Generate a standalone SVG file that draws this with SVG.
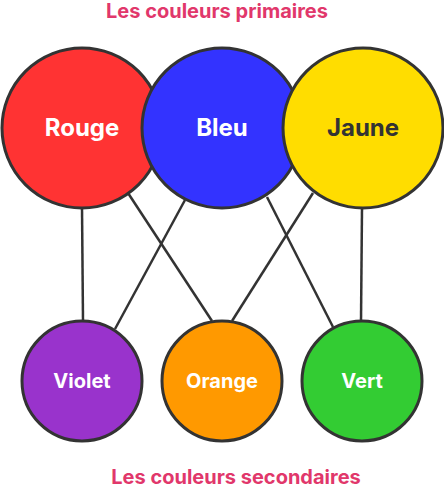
<svg xmlns="http://www.w3.org/2000/svg" width="444" height="489" viewBox="0 0 444 489">
<style>
.title{font-family:Inter,"Liberation Sans",sans-serif;font-weight:700;font-size:20px;fill:#e1376b;text-anchor:middle}
.node circle{stroke:#333333;stroke-width:3}
.big{font-family:Inter,"Liberation Sans",sans-serif;font-weight:700;font-size:24px;fill:#ffffff;text-anchor:middle}
.small{font-family:Inter,"Liberation Sans",sans-serif;font-weight:700;font-size:20px;fill:#ffffff;text-anchor:middle}
.edges line{stroke:#333333;stroke-width:2.5}
</style>
<rect width="444" height="489" fill="#ffffff"/>
<text class="title" x="217" y="18">Les couleurs primaires</text>
<text class="title" x="236" y="484">Les couleurs secondaires</text>
<g class="edges">
<line x1="82" y1="207" x2="83" y2="321"/>
<line x1="128" y1="193" x2="212" y2="321"/>
<line x1="185" y1="200" x2="115" y2="329"/>
<line x1="267" y1="197" x2="333" y2="327"/>
<line x1="313" y1="193" x2="232" y2="321"/>
<line x1="362" y1="208" x2="361" y2="321"/>
</g>
<g id="rouge" class="node"><circle cx="82" cy="128" r="80" fill="#ff3333"/><text class="big" x="82" y="136">Rouge</text></g>
<g id="bleu" class="node"><circle cx="222" cy="128" r="80" fill="#3333ff"/><text class="big" x="222" y="136">Bleu</text></g>
<g id="jaune" class="node"><circle cx="363" cy="128" r="80" fill="#ffdd00"/><text class="big" x="363" y="136" style="fill:#333333">Jaune</text></g>
<g id="violet" class="node"><circle cx="82" cy="381" r="60" fill="#9933cc"/><text class="small" x="82" y="388">Violet</text></g>
<g id="orange" class="node"><circle cx="222" cy="381" r="60" fill="#ff9900"/><text class="small" x="222" y="388">Orange</text></g>
<g id="vert" class="node"><circle cx="362" cy="381" r="60" fill="#33cc33"/><text class="small" x="362" y="388">Vert</text></g>
</svg>
